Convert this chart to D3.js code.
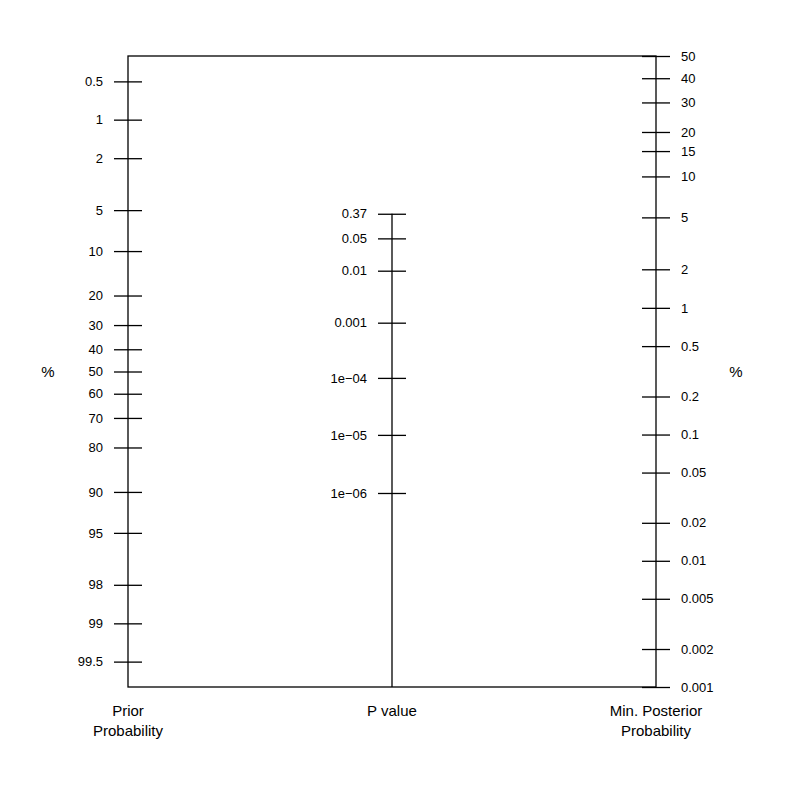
<!DOCTYPE html>
<html>
<head>
<meta charset="utf-8">
<script src="https://cdn.jsdelivr.net/npm/d3@7"></script>
<style>
  body { margin: 0; background: #fff; }
  text { font-family: "Liberation Sans", Arial, sans-serif; fill: #000; }
</style>
</head>
<body>
<script>
// Fagan-style nomogram: prior -> p value (min Bayes factor) -> min posterior
const priorTicks = [0.5, 1, 2, 5, 10, 20, 30, 40, 50, 60, 70, 80, 90, 95, 98, 99, 99.5]
const pTicks = [0.37, 0.05, 0.01, 0.001, 1e-4, 1e-5, 1e-6]
const pLabels = ["0.37", "0.05", "0.01", "0.001", "1e\u221204", "1e\u221205", "1e\u221206"]
const postTicks = [50, 40, 30, 20, 15, 10, 5, 2, 1, 0.5, 0.2, 0.1, 0.05, 0.02, 0.01, 0.005, 0.002, 0.001]

const w = 785, h = 785
const yTop = 56, yBot = 687
const xL = 128, xM = 392, xR = 656

const logit = p => Math.log(p / (1 - p))
const minBF = p => -Math.E * p * Math.log(p)

const postRange = [logit(0.5), logit(0.00001)]
const half = (postRange[0] - postRange[1]) / 2

const priorScale = d3.scaleLinear([-half, half], [yTop, yBot])
const postScale = d3.scaleLinear(postRange, [yTop, yBot])
// midpoint of any line from left axis (prior logit 0) to right axis
const midY = lb => (priorScale(0) + postScale(lb)) / 2
const bfScale = d3.scaleLinear([0, -1], [midY(0), midY(-1)])

const svg = d3.select("body").append("svg").attr("width", w).attr("height", h)

const frame = svg.append("g").attr("stroke", "#000").attr("stroke-width", 1.3).attr("fill", "none")
frame.append("rect").attr("x", xL).attr("y", yTop).attr("width", xR - xL).attr("height", yBot - yTop)
frame.append("line").attr("x1", xM).attr("x2", xM).attr("y1", bfScale(0)).attr("y2", yBot)

const styleAxis = g => {
  g.select(".domain").remove()
  g.selectAll(".tick line").attr("stroke", "#000").attr("stroke-width", 1.3)
  g.selectAll(".tick text").attr("font-size", 13).attr("font-family", "Liberation Sans, Arial, sans-serif")
}

svg.append("g").attr("transform", `translate(${xL + 14},0)`)
  .call(d3.axisLeft(priorScale)
    .tickValues(priorTicks.map(v => logit(v / 100)))
    .tickFormat((d, i) => priorTicks[i])
    .tickSize(28).tickPadding(11))
  .call(styleAxis)

svg.append("g").attr("transform", `translate(${xM + 14},0)`)
  .call(d3.axisLeft(bfScale)
    .tickValues(pTicks.map(p => Math.log(minBF(p))))
    .tickFormat((d, i) => pLabels[i])
    .tickSize(28).tickPadding(11))
  .call(styleAxis)

svg.append("g").attr("transform", `translate(${xR - 14},0)`)
  .call(d3.axisRight(postScale)
    .tickValues(postTicks.map(v => logit(v / 100)))
    .tickFormat((d, i) => postTicks[i])
    .tickSize(28).tickPadding(11))
  .call(styleAxis)

const midAxis = (yTop + yBot) / 2
svg.append("text").attr("x", 48).attr("y", midAxis).attr("dy", "0.35em")
  .attr("text-anchor", "middle").attr("font-size", 15).text("%")
svg.append("text").attr("x", 736).attr("y", midAxis).attr("dy", "0.35em")
  .attr("text-anchor", "middle").attr("font-size", 15).text("%")

const titles = [
  { x: xL, lines: ["Prior", "Probability"] },
  { x: xM, lines: ["P value"] },
  { x: xR, lines: ["Min. Posterior", "Probability"] }
]
titles.forEach(t => {
  t.lines.forEach((s, i) => {
    svg.append("text").attr("x", t.x).attr("y", 716 + i * 20)
      .attr("text-anchor", "middle").attr("font-size", 15).text(s)
  })
})
</script>
</body>
</html>
